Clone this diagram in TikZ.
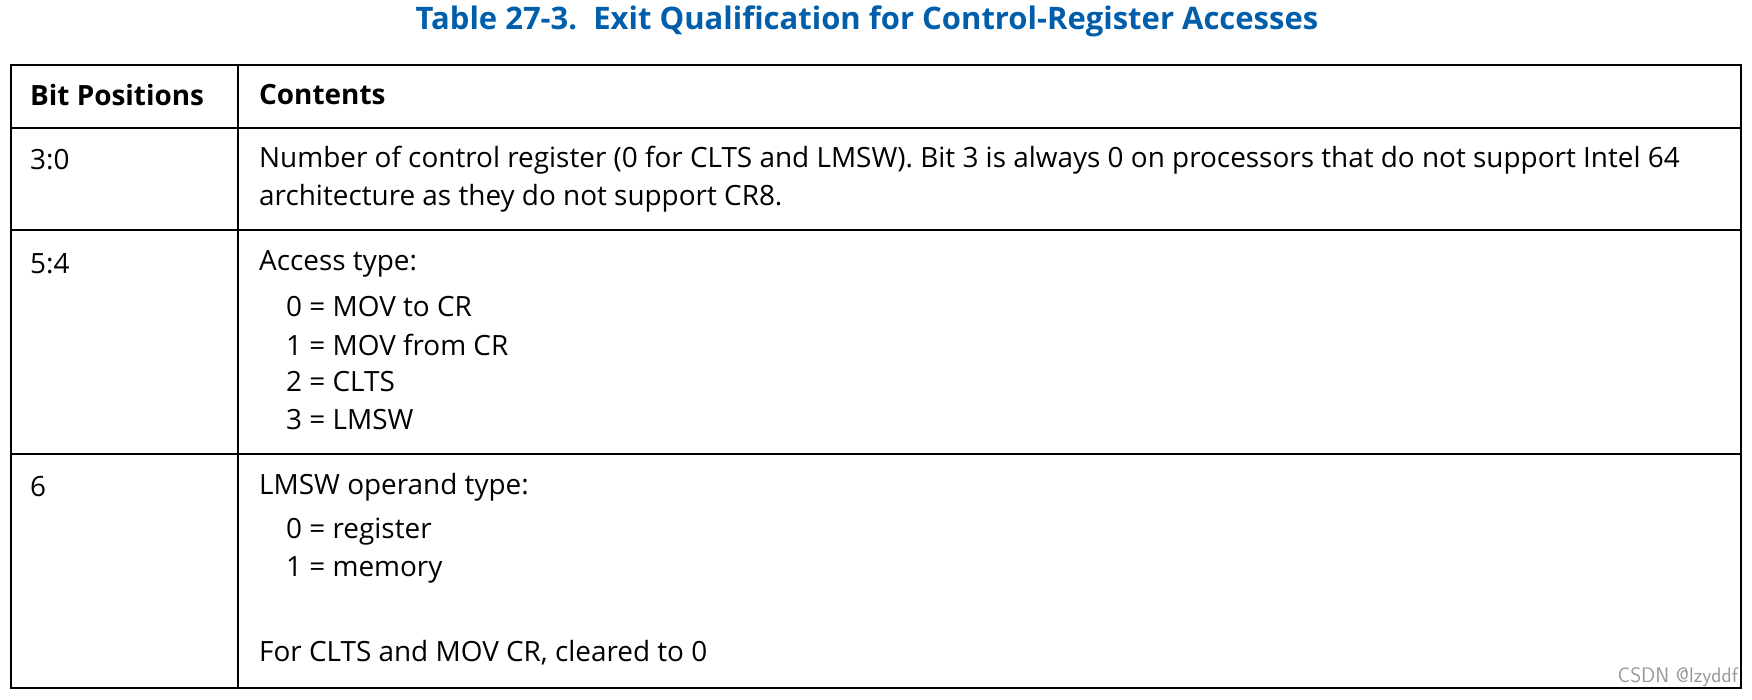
\documentclass[tikz,border=0pt]{standalone}
\usepackage{fontspec}
\setmainfont{Open Sans}
\definecolor{ttl}{RGB}{0,94,170}
\begin{document}
\begin{tikzpicture}[x=1pt,y=-1pt,
  txt/.style={anchor=west,inner sep=0pt,font=\fontsize{27.9}{32}\selectfont},
  hd/.style={txt,font=\fontsize{27.9}{32}\selectfont\bfseries},
  rule/.style={line width=1.3pt}]
\useasboundingbox (0,0) rectangle (1752,700);
\node[inner sep=0pt,text=ttl,font=\fontsize{31}{36}\selectfont\bfseries] (title) at (867,21) {Table 27-3.\ \ Exit Qualification for Control-Register Accesses};
\draw[rule] (11,65) rectangle (1741,688);
\draw[rule] (11,128) -- (1741,128);
\draw[rule] (11,230) -- (1741,230);
\draw[rule] (11,454) -- (1741,454);
\draw[rule] (238,65) -- (238,688);
\node[hd] (h1) at (30,95) {Bit Positions};
\node[hd] (h2) at (259,95) {Contents};
\node[txt] (b1) at (30,160) {3:0};
\node[txt] (c1a) at (259,160) {Number of control register (0 for CLTS and LMSW). Bit 3 is always 0 on processors that do not support Intel 64};
\node[txt] (c1b) at (259,198) {architecture as they do not support CR8.};
\node[txt] (b2) at (30,264) {5:4};
\node[txt] (c2a) at (259,264) {Access type:};
\node[txt] (c2b) at (286,307) {0 = MOV to CR};
\node[txt] (c2c) at (286,345) {1 = MOV from CR};
\node[txt] (c2d) at (286,382) {2 = CLTS};
\node[txt] (c2e) at (286,420) {3 = LMSW};
\node[txt] (b3) at (30,487) {6};
\node[txt] (c3a) at (259,487) {LMSW operand type:};
\node[txt] (c3b) at (286,532) {0 = register};
\node[txt] (c3c) at (286,570) {1 = memory};
\node[txt] (c3d) at (259,653) {For CLTS and MOV CR, cleared to 0};
\node[anchor=east,inner sep=0pt,text=black!40,font=\fontsize{21}{24}\selectfont\sffamily] (wm) at (1738,677) {CSDN @lzyddf};
\end{tikzpicture}
\end{document}
